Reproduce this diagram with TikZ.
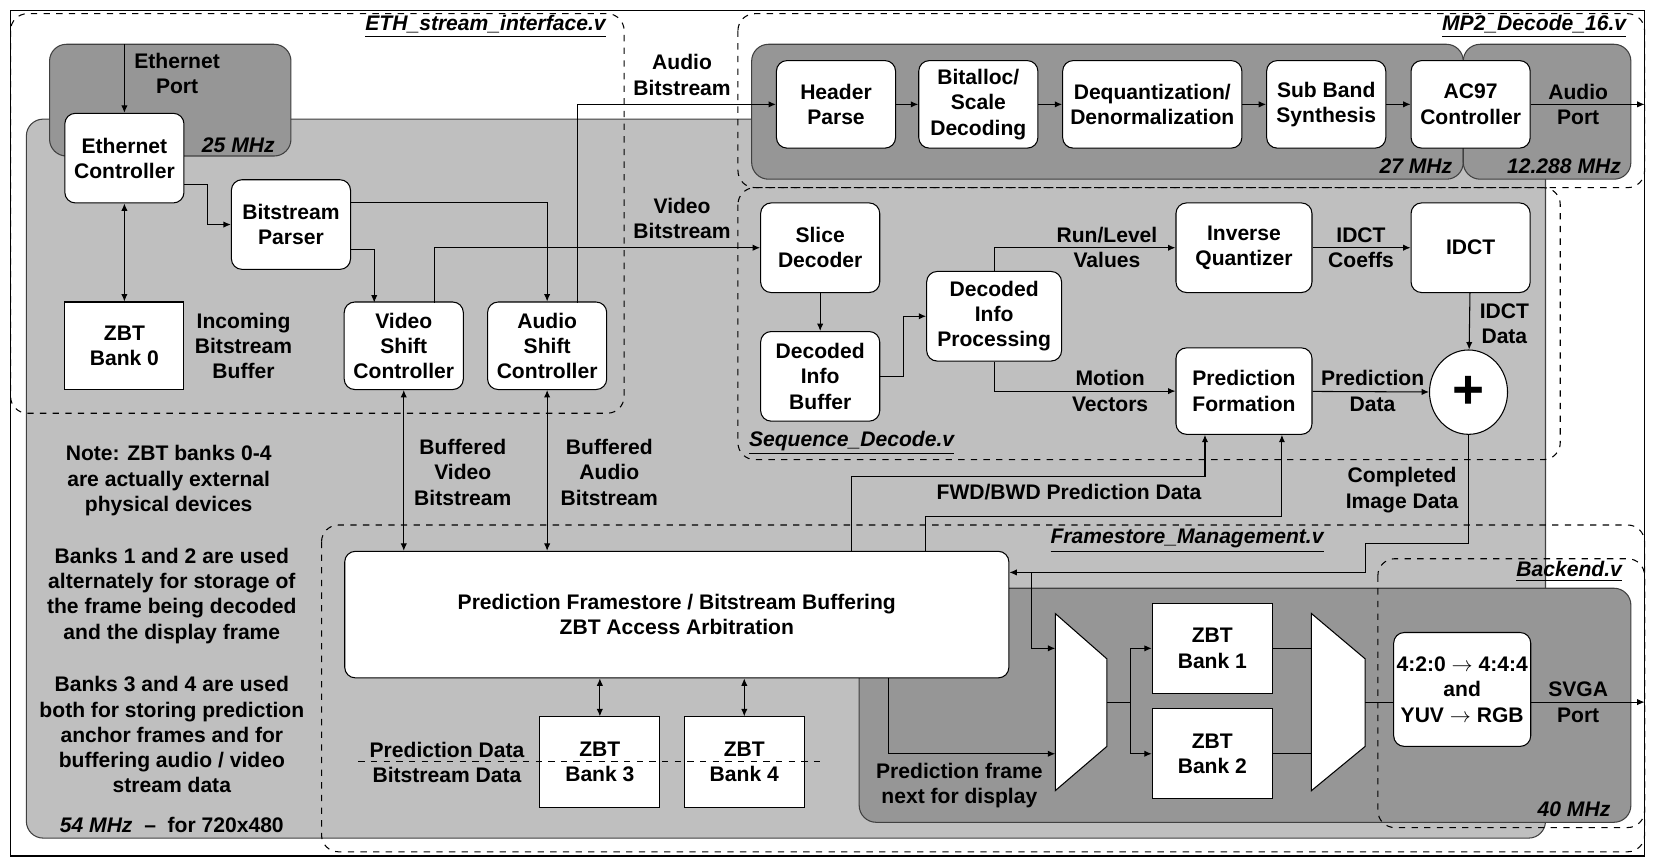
\documentclass[tikz,border=0pt]{standalone}
\usepackage{fontspec}
\setmainfont{Liberation Sans}
\usetikzlibrary{arrows.meta,shapes.geometric}
\begin{document}
\begin{tikzpicture}[x=0.5pt,y=-0.5pt,
  font=\fontsize{10}{12}\selectfont\bfseries,
  line width=0.5pt,
  >={Latex[length=3.5pt,width=3pt]},
  box/.style={draw, fill=white, rounded corners=5pt, align=center, inner sep=1pt, minimum width=56.5pt, minimum height=42.5pt},
  sq/.style={draw, fill=white, align=center, inner sep=1pt, minimum width=57pt, minimum height=43pt},
  lbl/.style={align=center, inner sep=1pt},
  mod/.style={dashed, line width=0.5pt, rounded corners=8pt},
  mname/.style={inner sep=1pt, font=\fontsize{10}{12}\selectfont\bfseries\itshape},
  clk/.style={inner sep=1pt, font=\fontsize{10}{12}\selectfont\bfseries\itshape},
  light/.style={fill=black!25, draw=black!75, rounded corners=8pt},
  dark/.style={fill=black!41, draw=black!75, rounded corners=8pt}]
\useasboundingbox (0,0) rectangle (1568,817);
\fill[white] (0,0) rectangle (1568,817);
\draw (10,10) rectangle (1560,812);
% clock regions
\path[light] (25,113) rectangle (1466,795);
\path[dark] (47,42) rectangle (276,148);
\path[dark] (713,42) rectangle (1388,170);
\path[dark] (1388,42) rectangle (1547,170);
\path[dark] (815,558) rectangle (1547,780);
\node[clk, anchor=east] at (263,138) {25 MHz};
\node[clk, anchor=east] at (1380,158) {27 MHz};
\node[clk, anchor=east] at (1540,158) {12.288 MHz};
\node[clk, anchor=east] at (1530,768) {40 MHz};
% module boxes
\draw[mod] (10,13) rectangle (592,392);
\draw[mod] (700,13) rectangle (1560,178);
\draw[mod] (700,178) rectangle (1480,436);
\draw[mod] (305,498) rectangle (1560,808);
\draw[mod] (1307,530) rectangle (1560,785);
\node[mname, anchor=east] at (577,25) {\underline{ETH\_stream\_interface.v}};
\node[mname, anchor=east] at (1545,25) {\underline{MP2\_Decode\_16.v}};
\node[mname, anchor=west] at (708,420) {\underline{Sequence\_Decode.v}};
\node[mname, anchor=east] at (1258,513) {\underline{Framestore\_Management.v}};
\node[mname, anchor=east] at (1541,542) {\underline{Backend.v}};
% nodes
\node[box] (eth) at (118,150) {Ethernet\\Controller};
\node[sq, minimum width=56.5pt, minimum height=41.5pt] (zbt0) at (118,328) {ZBT\\Bank 0};
\node[box] (bp) at (276,213) {Bitstream\\Parser};
\node[box, minimum height=41.5pt] (vs) at (383,328) {Video\\Shift\\Controller};
\node[box, minimum height=41.5pt] (as) at (519,328) {Audio\\Shift\\Controller};
\node[box, minimum height=41.5pt] (hp) at (793,99) {Header\\Parse};
\node[box, minimum height=41.5pt] (ba) at (928,99) {Bitalloc/\\Scale\\Decoding};
\node[box, minimum height=41.5pt, minimum width=85pt] (dq) at (1093,99) {Dequantization/\\Denormalization};
\node[box, minimum height=41.5pt] (sb) at (1258,99) {Sub Band\\Synthesis};
\node[box, minimum height=41.5pt] (ac) at (1395,99) {AC97\\Controller};
\node[box] (sd) at (778,235) {Slice\\Decoder};
\node[box] (dib) at (778,357) {Decoded\\Info\\Buffer};
\node[box, minimum width=64pt] (dip) at (943,300) {Decoded\\Info\\Processing};
\node[box, minimum width=64.5pt] (iq) at (1180,235) {Inverse\\Quantizer};
\node[box] (idct) at (1395,235) {IDCT};
\node[box, minimum width=64.5pt, minimum height=41pt] (pf) at (1180,371) {Prediction\\Formation};
\node[draw, fill=white, ellipse, minimum width=37pt, minimum height=40pt, inner sep=0pt, font=\fontsize{26}{26}\selectfont\bfseries] (plus) at (1393,372) {+};
\node[box, minimum width=315pt, minimum height=60pt] (pfs) at (642,583) {Prediction Framestore / Bitstream Buffering\\ZBT Access Arbitration};
\node[sq] (z3) at (569,723) {ZBT\\Bank 3};
\node[sq] (z4) at (706,723) {ZBT\\Bank 4};
\node[sq, minimum height=42.5pt] (z1) at (1150,615) {ZBT\\Bank 1};
\node[sq, minimum height=42.5pt] (z2) at (1150,715) {ZBT\\Bank 2};
\node[box, minimum width=65pt, minimum height=54pt] (cv) at (1387,654) {4:2:0 $\rightarrow$ 4:4:4\\and\\YUV $\rightarrow$ RGB};
% muxes
\draw[fill=white] (1001,582) -- (1050,625) -- (1050,708) -- (1001,750) -- cycle;
\draw[fill=white] (1244,582) -- (1295,625) -- (1295,708) -- (1244,750) -- cycle;
\coordinate (m1a) at (1001,615); \coordinate (m1b) at (1001,715); \coordinate (m1o) at (1050,666);
\coordinate (m2a) at (1244,615); \coordinate (m2b) at (1244,715); \coordinate (m2o) at (1295,666);
\coordinate (ethin) at (118,42); \coordinate (aout) at (1560,99); \coordinate (vout) at (1560,666);
% connectors
\draw[->] (ethin) -- (eth.north);
\node[lbl] at (168,70) {Ethernet\\Port};
\draw[<->] (eth) -- (zbt0);
\node[lbl] at (231,328) {Incoming\\Bitstream\\Buffer};
\draw[->] (175,175) -- (197,175) -- (197,213) -- (bp.west);
\draw[->] (333,192) -| (as.north);
\draw[->] (333,237) -| (355,287);
\draw[->] (412,287) |- (sd.west);
\draw[->] (548,287) |- (hp.west);
\node[lbl] at (647,71) {Audio\\Bitstream};
\node[lbl] at (647,207) {Video\\Bitstream};
\draw[->] (hp) -- (ba);
\draw[->] (ba) -- (dq);
\draw[->] (dq) -- (sb);
\draw[->] (sb) -- (ac);
\draw[->] (ac) -- (aout);
\node[lbl] at (1497,99) {Audio\\Port};
\draw[->] (sd) -- (dib);
\draw[->] (dib.east) -- (857,357) |- (dip.west);
\draw[->] (dip.north) |- (iq.west);
\node[lbl] at (1050,235) {Run/Level\\Values};
\draw[->] (dip.south) |- (pf.west);
\node[lbl] at (1053,371) {Motion\\Vectors};
\draw[->] (iq) -- (idct);
\node[lbl] at (1291,235) {IDCT\\Coeffs};
\draw[->] (idct) -- (plus);
\node[lbl] at (1427,307) {IDCT\\Data};
\draw[->] (pf) -- (plus);
\node[lbl] at (1302,371) {Prediction\\Data};
\draw[->] (plus.south) -- (1393,516) -- (1295,516) -- (1295,543) -- (pfs.east |- 0,543);
\draw[->] (978,543) |- (m1a);
\node[lbl] at (1330,465) {Completed\\Image Data};
\draw[->] (808,523) |- (1143,452) -- (pf.south -| 1143,0);
\draw[->] (878,523) |- (1216,490) -- (pf.south -| 1216,0);
\node[lbl] at (1014,467) {FWD/BWD Prediction Data};
\draw[->] (843,643) |- (m1b);
\node[lbl] at (910,745) {Prediction frame\\next for display};
\draw (m1o) -- (1072,666);
\draw[->] (1072,615) -- (z1.west);
\draw[->] (1072,715) -- (z2.west);
\draw (1072,615) -- (1072,715);
\draw (z1.east) -- (m2a);
\draw (z2.east) -- (m2b);
\draw (m2o) -- (cv.west |- m2o);
\draw[->] (cv.east |- 0,666) -- (vout);
\node[lbl] at (1497,666) {SVGA\\Port};
\draw[<->] (vs.south) -- (pfs.north -| vs.south);
\draw[<->] (as.south) -- (pfs.north -| as.south);
\node[lbl] at (439,448) {Buffered\\Video\\Bitstream};
\node[lbl] at (578,448) {Buffered\\Audio\\Bitstream};
\draw[<->] (pfs.south -| z3.north) -- (z3.north);
\draw[<->] (pfs.south -| z4.north) -- (z4.north);
\draw[dashed] (340,722) -- (780,722);
\node[lbl] at (424,711) {Prediction Data};
\node[lbl] at (424,735) {Bitstream Data};
% notes
\node[lbl] at (160,456) {Note: ZBT banks 0-4\\are actually external\\physical devices};
\node[lbl] at (163,565) {Banks 1 and 2 are used\\alternately for storage of\\the frame being decoded\\and the display frame};
\node[lbl] at (163,697) {Banks 3 and 4 are used\\both for storing prediction\\anchor frames and for\\buffering audio / video\\stream data};
\node[lbl] at (163,783) {\textit{54 MHz} \ --\ \ for 720x480};
\end{tikzpicture}
\end{document}
